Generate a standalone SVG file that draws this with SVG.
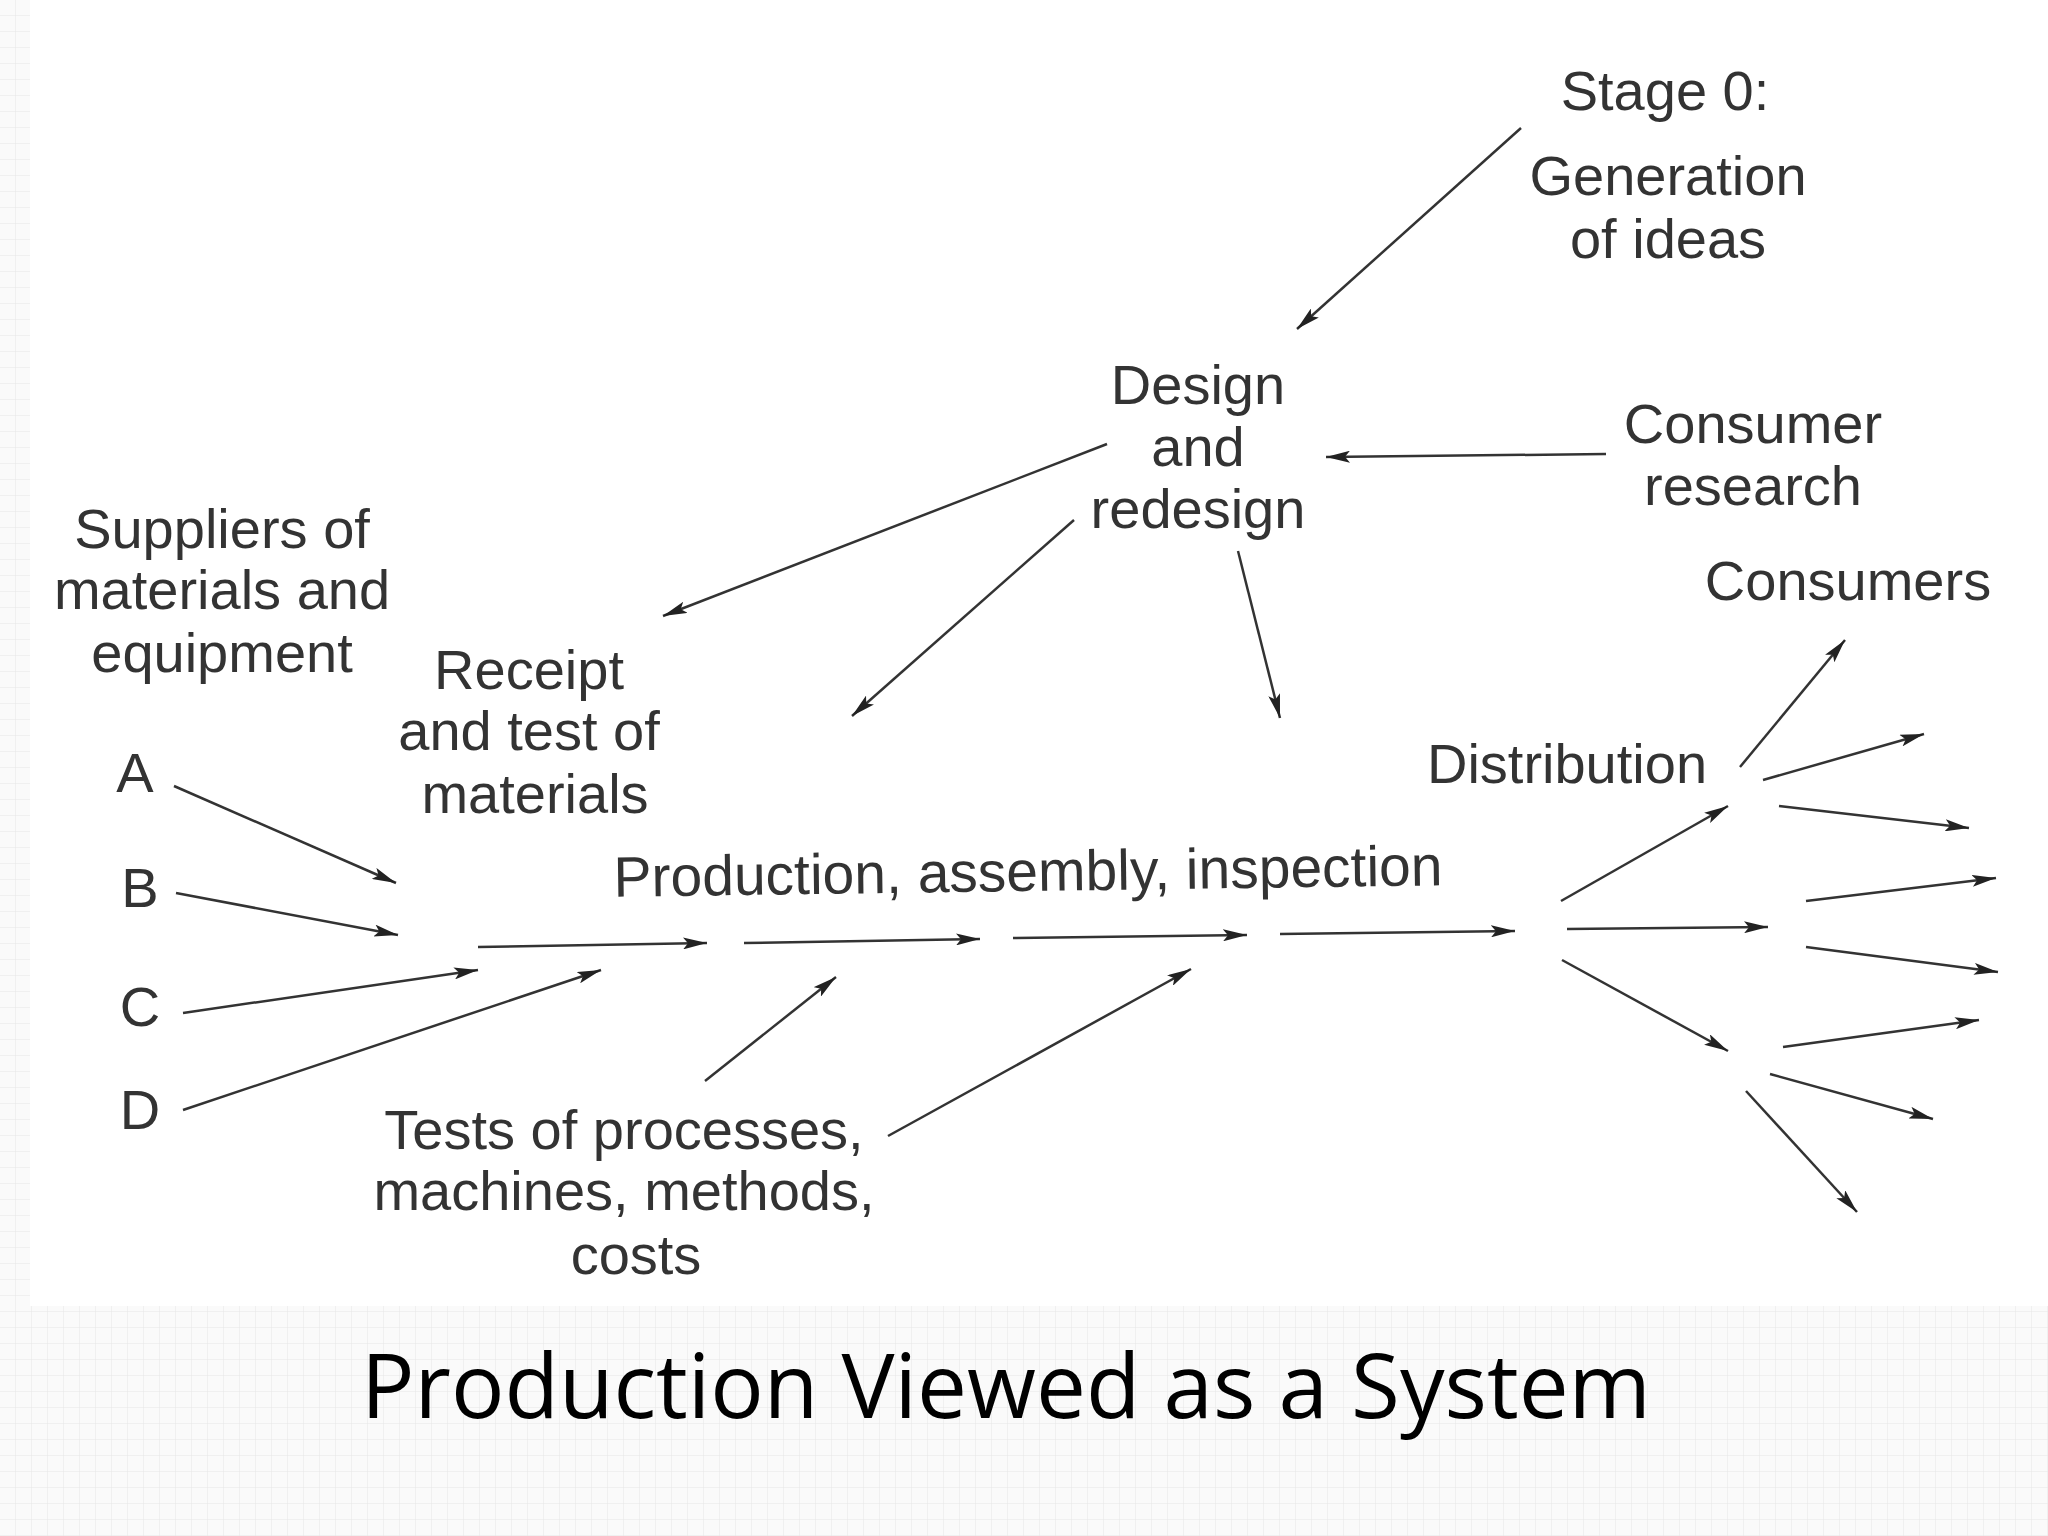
<svg xmlns="http://www.w3.org/2000/svg" width="2048" height="1536" viewBox="0 0 2048 1536">
<defs>
<pattern id="grid" width="16" height="16" patternUnits="userSpaceOnUse">
<rect width="16" height="16" fill="#fafafa"/>
<path d="M16 0V16M0 16H16" stroke="#e6e6e6" stroke-width="1" fill="none"/>
</pattern>
<marker id="ah" viewBox="0 0 24 12" refX="24" refY="6" markerWidth="24" markerHeight="12" markerUnits="userSpaceOnUse" orient="auto">
<path d="M0 0L24 6L0 12L5 6Z" fill="#222"/>
</marker>
<style>
.t{font-family:"Liberation Sans",Arial,sans-serif;font-size:56px;fill:#333;text-anchor:middle}
.c line{stroke:#333;stroke-width:2.5;marker-end:url(#ah)}
</style>
</defs>
<rect width="2048" height="1536" fill="url(#grid)"/>
<rect x="30" y="0" width="2018" height="1306" fill="#fff"/>
<g id="stage0" class="t"><text x="1665" y="110">Stage 0:</text><text x="1668" y="195">Generation</text><text x="1668" y="258">of ideas</text></g>
<g id="design" class="t"><text x="1198" y="404">Design</text><text x="1198" y="466">and</text><text x="1198" y="528">redesign</text></g>
<g id="research" class="t"><text x="1753" y="443">Consumer</text><text x="1753" y="505">research</text></g>
<g id="consumers" class="t"><text x="1848" y="600">Consumers</text></g>
<g id="suppliers" class="t"><text x="222" y="548">Suppliers of</text><text x="222" y="609">materials and</text><text x="222" y="672">equipment</text></g>
<g id="receipt" class="t"><text x="529" y="689">Receipt</text><text x="529" y="750">and test of</text><text x="535" y="813">materials</text></g>
<g id="A" class="t"><text x="135" y="792">A</text></g>
<g id="B" class="t"><text x="140" y="907">B</text></g>
<g id="C" class="t"><text x="140" y="1026">C</text></g>
<g id="D" class="t"><text x="140" y="1129">D</text></g>
<g id="production" class="t"><text x="1028" y="891" font-size="57" transform="rotate(-0.8 1028 872)">Production, assembly, inspection</text></g>
<g id="distribution" class="t"><text x="1567" y="783">Distribution</text></g>
<g id="tests" class="t"><text x="624" y="1149">Tests of processes,</text><text x="624" y="1210">machines, methods,</text><text x="636" y="1274">costs</text></g>
<g id="connectors" class="c">
<line x1="1521" y1="128" x2="1297" y2="329"/>
<line x1="1107" y1="444" x2="663" y2="616"/>
<line x1="1074" y1="520" x2="852" y2="716"/>
<line x1="1238" y1="551" x2="1280" y2="718"/>
<line x1="1606" y1="454" x2="1326" y2="457"/>
<line x1="174" y1="786" x2="396" y2="883"/>
<line x1="176" y1="893" x2="398" y2="935"/>
<line x1="183" y1="1013" x2="478" y2="970"/>
<line x1="183" y1="1110" x2="601" y2="970"/>
<line x1="478" y1="947" x2="707" y2="943"/>
<line x1="744" y1="943" x2="980" y2="939"/>
<line x1="1013" y1="938" x2="1247" y2="935"/>
<line x1="1280" y1="934" x2="1515" y2="931"/>
<line x1="705" y1="1081" x2="836" y2="977"/>
<line x1="888" y1="1136" x2="1191" y2="969"/>
<line x1="1561" y1="901" x2="1728" y2="806"/>
<line x1="1567" y1="929" x2="1768" y2="927"/>
<line x1="1562" y1="960" x2="1728" y2="1051"/>
<line x1="1740" y1="767" x2="1845" y2="640"/>
<line x1="1763" y1="780" x2="1924" y2="734"/>
<line x1="1779" y1="806" x2="1969" y2="828"/>
<line x1="1806" y1="901" x2="1996" y2="878"/>
<line x1="1806" y1="947" x2="1998" y2="972"/>
<line x1="1783" y1="1047" x2="1979" y2="1020"/>
<line x1="1770" y1="1074" x2="1933" y2="1119"/>
<line x1="1746" y1="1091" x2="1857" y2="1212"/>
</g>
<g id="title"><text x="1006" y="1418" style="font-family:'Open Sans','Noto Sans',sans-serif;font-size:89px;fill:#000;text-anchor:middle">Production Viewed as a System</text></g>
</svg>
